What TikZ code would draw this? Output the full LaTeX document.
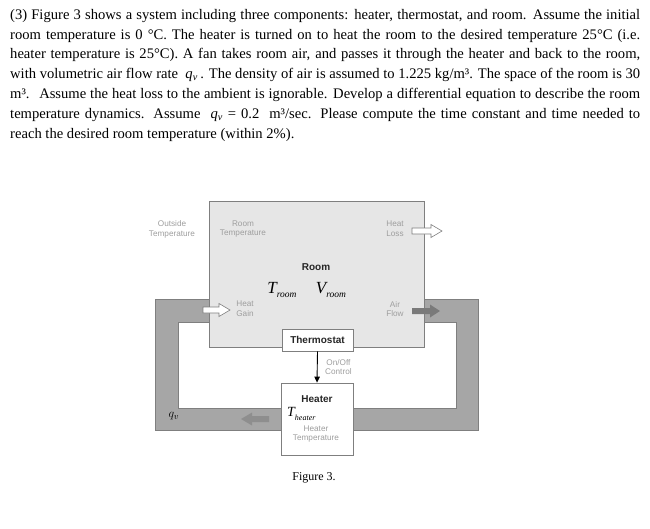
\documentclass[tikz,border=0pt]{standalone}
\usepackage{fontspec}
\setmainfont{Liberation Serif}
\newfontfamily\labelfont{Liberation Sans}
\usetikzlibrary{arrows.meta,positioning}
\definecolor{RoomFill}{HTML}{E6E6E6}
\definecolor{DuctFill}{HTML}{A6A6A6}
\definecolor{EdgeGray}{HTML}{7F7F7F}
\definecolor{FlowGray}{HTML}{7A7A7A}
\definecolor{TagGray}{HTML}{9E9E9E}
\definecolor{HeadText}{HTML}{262626}
\newcommand{\jline}[1]{\makebox[630pt][s]{#1}}
\newcommand{\qv}{\textit{q}\textsubscript{\textit{v}}}
\newcommand{\symsub}[4]{{\fontsize{#1}{#1}\selectfont\itshape #2}{\fontsize{#3}{#3}\selectfont\itshape\raisebox{-3.5pt}{#4}}}
% block arrow: style, tail x, head base x, tip x, y
\newcommand{\fatarrow}[5]{\path[#1] (#2,#5-3) -- (#3,#5-3) -- (#3,#5-6.5) -- (#4,#5)
  -- (#3,#5+6.5) -- (#3,#5+3) -- (#2,#5+3) -- cycle;}

\begin{document}
\begin{tikzpicture}[x=1pt,y=-1pt,
    tag/.style={font=\labelfont\fontsize{8.2}{9.8}\selectfont,text=TagGray,align=center,inner sep=0pt},
    title/.style={font=\labelfont\bfseries\fontsize{10}{12}\selectfont,text=HeadText,inner sep=0pt},
    unitbox/.style={draw=EdgeGray,fill=white,line width=0.8pt,inner sep=0pt}]
  \useasboundingbox (0,0) rectangle (650,528);
  % problem statement
  \node[anchor=north west,align=left,inner sep=0pt,
    font=\fontsize{14.6}{19.8}\selectfont] (statement) at (10,9) {%
    \jline{(3) Figure 3 shows a system including three components: heater, thermostat, and room. Assume the initial}\\
    \jline{room temperature is 0 °C. The heater is turned on to heat the room to the desired temperature 25°C (i.e.}\\
    \jline{heater temperature is 25°C). A fan takes room air, and passes it through the heater and back to the room,}\\
    \jline{with volumetric air flow rate \ \qv\,. The density of air is assumed to 1.225 kg/m³. The space of the room is 30}\\
    \jline{m³. \ Assume the heat loss to the ambient is ignorable. Develop a differential equation to describe the room}\\
    \jline{temperature dynamics. Assume \ \qv\ = 0.2 \ m³/sec. Please compute the time constant and time needed to}\\
    reach the desired room temperature (within 2\%).};
  % air duct loop
  \path[fill=DuctFill,draw=EdgeGray,line width=0.8pt,even odd rule]
    (155,299) rectangle (478,430) (178,322) rectangle (456,408);
  % room
  \node[draw=EdgeGray,fill=RoomFill,line width=0.8pt,minimum width=215pt,
    minimum height=146pt,inner sep=0pt] (room) at (316.5,274) {};
  \node[title] (roomtitle) at (316,267) {Room};
  \node (troom) at (282,290) {\symsub{17}{T}{9.5}{room}};
  \node (vroom) at (331,290) {\symsub{17}{V}{9.5}{room}};
  \node[tag] (outside) at (172,229) {Outside\\Temperature};
  \node[tag] (roomtemp) at (243,229) {Room\\Temperature};
  \node[tag] (loss) at (395,229) {Heat\\Loss};
  \node[tag] (gain) at (245,309) {Heat\\Gain};
  \node[tag] (airflow) at (395,309) {Air\\Flow};
  \fatarrow{draw=EdgeGray,fill=white,line width=0.6pt}{412}{431}{442}{231}
  \fatarrow{draw=EdgeGray,fill=white,line width=0.6pt}{203}{219}{230}{310}
  \fatarrow{fill=FlowGray}{412}{430}{440}{311}
  \fatarrow{fill=FlowGray!85!white}{269}{252}{241}{419}
  \node (qflow) at (174,416) {\fontsize{13}{13}\selectfont$q_v$};
  % thermostat and heater
  \node[unitbox,minimum width=71pt,minimum height=22pt] (thermo) at (317.5,340)
    {\labelfont\bfseries\fontsize{10}{12}\selectfont\color{HeadText}Thermostat};
  \node[unitbox,minimum width=72pt,minimum height=72pt] (heater) at (317,419) {};
  \draw[black,line width=0.9pt,-{Triangle[length=6pt,width=5.5pt]}] (thermo.south) -- (heater.north);
  \node[tag,anchor=west] (onoff) at (325,367) {On/Off\\Control};
  \node[title] (heatertitle) at (317,399) {Heater};
  \node[anchor=west,inner sep=0pt] (theater) at (287,414) {\symsub{14}{T}{8}{heater}};
  \node[tag] (heatertemp) at (316,434) {Heater\\Temperature};
  \node[font=\fontsize{12}{14}\selectfont] (caption) at (314,478) {Figure 3.};
\end{tikzpicture}
\end{document}
